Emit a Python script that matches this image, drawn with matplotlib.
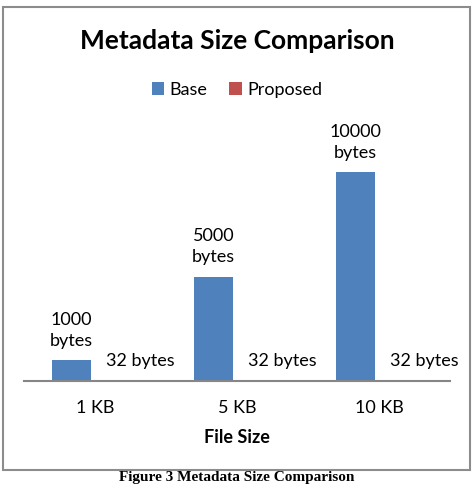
import matplotlib
matplotlib.use("Agg")
import matplotlib.pyplot as plt
from matplotlib.patches import Rectangle
import numpy as np

categories = ["1 KB", "5 KB", "10 KB"]
base_bytes = [1000, 5000, 10000]
proposed_bytes = [32, 32, 32]

blue = "#4F81BD"
red = "#C0504D"
plt.rcParams["font.family"] = ["Lato", "DejaVu Sans"]

fig = plt.figure(figsize=(4.74, 4.84), dpi=100)
# gray frame around the chart (excel chart area)
fig.patches.append(Rectangle((3 / 474, 1 - 470 / 484), 467 / 474, 463 / 484,
                             transform=fig.transFigure, fill=False,
                             edgecolor="#8c8c8c", linewidth=1.5))

ax = fig.add_axes([24 / 474, 103 / 484, 426 / 474, 251 / 484])
x = np.arange(len(categories))
w = 0.275
ax.bar(x - 0.165, base_bytes, w, color=blue, label="Base")
ax.bar(x + 0.165, proposed_bytes, w, color=red, label="Proposed")

for xi, v in zip(x, base_bytes):
    ax.annotate(f"{v}\nbytes", (xi - 0.165, v), xytext=(0, 8), textcoords="offset points",
                ha="center", va="bottom", fontsize=13, linespacing=1.4)
for xi, v in zip(x, proposed_bytes):
    ax.annotate(f"{v} bytes", (xi + 0.32, v), xytext=(0, 8), textcoords="offset points",
                ha="center", va="bottom", fontsize=13)

ax.set_xlim(-0.5, 2.5)
ax.set_ylim(0, 12010)
ax.set_yticks([])
ax.set_xticks(x)
ax.set_xticklabels(categories, fontsize=13)
ax.tick_params(axis="x", length=0, pad=14)
for s in ["top", "right", "left"]:
    ax.spines[s].set_visible(False)
ax.spines["bottom"].set_color("#868686")
ax.spines["bottom"].set_linewidth(1.5)
ax.set_xlabel("File Size", fontsize=13, fontweight="bold", labelpad=9)

fig.text(0.5, 1 - 41 / 484, "Metadata Size Comparison", ha="center", va="center",
         fontsize=19, fontweight="bold")
fig.legend(loc="center", bbox_to_anchor=(0.5, 1 - 90 / 484), ncol=2, frameon=False,
           fontsize=13, handlelength=0.7, handleheight=0.7, handletextpad=0.3,
           columnspacing=1.2)
fig.text(0.5, 0.0, "Figure 3 Metadata Size Comparison", ha="center", va="bottom",
         fontsize=11, fontweight="bold", family="Liberation Serif")

fig.savefig("out.png", dpi=100)
